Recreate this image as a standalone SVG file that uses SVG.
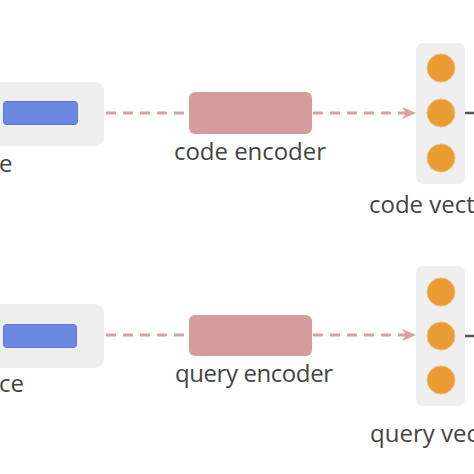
<svg xmlns="http://www.w3.org/2000/svg" width="474" height="474" viewBox="0 0 474 474">
<defs>
<style>
.panel{fill:#efefef}
.tok{fill:#6a87e2;stroke:#5b79d6;stroke-width:1}
.enc{fill:#d69c9c}
.dot{fill:#e89c33;stroke:#f3c27a;stroke-width:1}
.dash{stroke:#d9a0a0;stroke-width:3;stroke-dasharray:10 7;fill:none}
.solid{stroke:#555;stroke-width:2.5;fill:none}
.lbl{font-family:"Open Sans","DejaVu Sans",sans-serif;font-size:24px;fill:#444}
</style>
<marker id="arr" markerWidth="14" markerHeight="12" refX="13" refY="6" orient="auto" markerUnits="userSpaceOnUse">
<path d="M0,0 L14,6 L0,12 L4,6 Z" fill="#d9a0a0"/>
</marker>
</defs>
<g id="connectors">
<line class="solid" x1="0" y1="113" x2="4" y2="113"/>
<line class="dash" x1="106" y1="113" x2="188" y2="113"/>
<line class="dash" x1="313" y1="113" x2="415" y2="113" marker-end="url(#arr)"/>
<line class="solid" x1="465" y1="113" x2="474" y2="113"/>
<line class="solid" x1="0" y1="335" x2="4" y2="335"/>
<line class="dash" x1="106" y1="335" x2="188" y2="335"/>
<line class="dash" x1="313" y1="335" x2="415" y2="335" marker-end="url(#arr)"/>
<line class="solid" x1="465" y1="336" x2="474" y2="336"/>
</g>
<g id="code-input">
<rect class="panel" x="-20" y="82" width="124" height="64" rx="9"/>
<rect class="tok" x="3.5" y="101.5" width="74" height="23" rx="3"/>
<text class="lbl" x="-1" y="172">e</text>
</g>
<g id="code-encoder">
<rect class="enc" x="189" y="92" width="123" height="42" rx="6"/>
<text class="lbl" x="250" y="160" text-anchor="middle" textLength="152">code encoder</text>
</g>
<g id="code-vector">
<rect class="panel" x="416" y="43" width="49" height="141" rx="7"/>
<circle class="dot" cx="441" cy="68" r="14"/>
<circle class="dot" cx="441" cy="113" r="14"/>
<circle class="dot" cx="441" cy="158" r="14"/>
<text class="lbl" x="369" y="213">code vect</text>
</g>
<g id="query-input">
<rect class="panel" x="-20" y="304" width="124" height="64" rx="9"/>
<rect class="tok" x="3.5" y="324.5" width="73" height="23" rx="3"/>
<text class="lbl" x="-1" y="392">ce</text>
</g>
<g id="query-encoder">
<rect class="enc" x="189" y="315" width="123" height="41" rx="6"/>
<text class="lbl" x="254" y="382" text-anchor="middle" textLength="158">query encoder</text>
</g>
<g id="query-vector">
<rect class="panel" x="416" y="266" width="49" height="140" rx="7"/>
<circle class="dot" cx="441" cy="292" r="14"/>
<circle class="dot" cx="441" cy="336" r="14"/>
<circle class="dot" cx="441" cy="380" r="14"/>
<text class="lbl" x="370" y="442">query vec</text>
</g>
</svg>
